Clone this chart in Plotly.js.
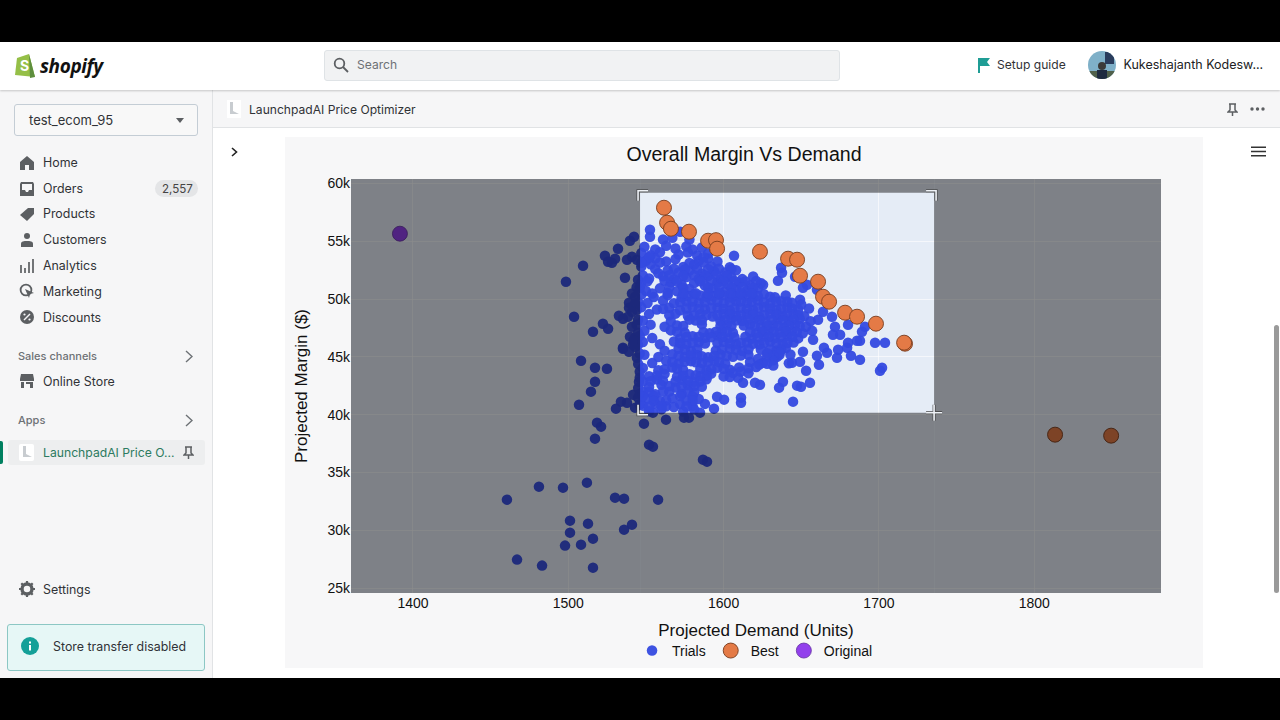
<!DOCTYPE html>
<html><head><meta charset="utf-8">
<script src="https://cdn.plot.ly/plotly-3.0.1.min.js"></script>
<style>
html,body{margin:0;padding:0;background:#000;overflow:hidden;width:1280px;height:720px;font-family:Inter,"Noto Sans",sans-serif;color:#303236}
.a{position:absolute}
.t{position:absolute;white-space:nowrap;font-size:12.4px;line-height:16px;transform:translateY(-50%)}
svg.i{position:absolute;width:16px;height:16px;transform:translate(-50%,-50%)}
</style></head><body>
<div class="a" style="left:0;top:42px;width:1280px;height:48px;background:#fff;box-shadow:0 1px 2px rgba(0,0,0,.2);z-index:3"></div>
<div class="a" style="left:0;top:90px;width:213px;height:588px;background:#f6f6f7;border-right:1px solid #e1e3e5;box-sizing:border-box"></div>
<div class="a" style="left:213px;top:90px;width:1067px;height:38px;background:#f6f6f7;border-bottom:1px solid #e1e3e5;box-sizing:border-box"></div>
<div class="a" style="left:213px;top:128px;width:1067px;height:550px;background:#fff"></div>
<div class="a" style="left:285px;top:137px;width:918px;height:531px;background:#f7f7f8"></div>
<div style="position:absolute;left:0;top:0;width:1280px;height:720px;z-index:4">
<svg class="a" style="left:14px;top:52px" width="24" height="27" viewBox="0 0 24 27"><path d="M3 6 L15 2 L21 25 L1 23Z" fill="#95bf47"/><path d="M15 2 L21 25 L16 26Z" fill="#5e8e3e"/><text x="6" y="19" font-size="14" font-weight="700" fill="#fff" font-family="Inter">S</text></svg>
<div class="t" style="left:40px;top:66px;font:italic 700 19px 'Open Sans';letter-spacing:-.4px;color:#111">shopify</div>
<div class="a" style="left:324px;top:50px;width:516px;height:31px;background:#f1f2f3;border:1px solid #dfe3e6;border-radius:3px;box-sizing:border-box"></div>
<svg class="a" style="left:333px;top:57px" width="16" height="16" viewBox="0 0 16 16"><circle cx="6.5" cy="6.5" r="4.8" fill="none" stroke="#5c5f62" stroke-width="1.8"/><path d="M10 10L15 15" stroke="#5c5f62" stroke-width="1.8"/></svg>
<div class="t" style="left:357px;top:65px;font-size:12.1px;color:#6d7175">Search</div>
<svg class="a" style="left:977px;top:57px" width="14" height="16" viewBox="0 0 14 16"><path d="M1 1H13L10 5L13 9H3V16H1Z" fill="#1f9d95"/></svg>
<div class="t" style="left:997px;top:65px;font-size:12.1px">Setup guide</div>
<svg class="a" style="left:1088px;top:51px" width="28" height="28"><defs><clipPath id="c"><circle cx="14" cy="14" r="14"/></clipPath></defs><g clip-path="url(#c)"><rect width="28" height="28" fill="#7fb0c8"/><rect x="17" y="1" width="9" height="12" fill="#2a3c5c"/><rect y="20" width="28" height="8" fill="#50604a"/><circle cx="14" cy="15" r="4" fill="#3c3a38"/><rect x="9" y="19" width="10" height="9" fill="#1e2a40"/></g></svg>
<div class="t" style="left:1123.5px;top:65px;font-size:12.5px;color:#202223">Kukeshajanth Kodesw...</div>

<div class="a" style="left:14px;top:104px;width:184px;height:32px;border:1px solid #c4cdd5;border-radius:3px;box-sizing:border-box;background:#f8f8f8"></div>
<div class="t" style="left:29px;top:120px;font-size:13px">test_ecom_95</div>
<svg class="a" style="left:176px;top:118px" width="8" height="5"><path d="M0 0H8L4 5Z" fill="#5c5f62"/></svg>

<svg class="i" style="left:27px;top:163px" viewBox="0 0 16 16"><path d="M8 1L15 7V15H10V10H6V15H1V7Z" fill="#5c5f62"/></svg><div class="t" style="left:43px;top:162.5px">Home</div>
<svg class="i" style="left:27px;top:189px" viewBox="0 0 16 16"><path d="M2 1H14L15 3V15H1V3ZM3 3V9H6L7 11H9L10 9H13V3Z" fill="#5c5f62" fill-rule="evenodd"/></svg><div class="t" style="left:43px;top:188.5px">Orders</div>
<div class="a" style="left:155px;top:180px;width:43px;height:17px;border-radius:9px;background:#e4e5e7"></div><div class="t" style="left:162px;top:188.5px;font-size:11.6px;color:#444">2,557</div>
<svg class="i" style="left:27px;top:214px" viewBox="0 0 16 16"><path d="M9 2H15V8L8 15L1 9Z" fill="#5c5f62"/></svg><div class="t" style="left:43px;top:214px">Products</div>
<svg class="i" style="left:27px;top:240px" viewBox="0 0 16 16"><circle cx="8" cy="4" r="3" fill="#5c5f62"/><path d="M2 15V12C2 9 5 9 8 9S14 9 14 12V15Z" fill="#5c5f62"/></svg><div class="t" style="left:43px;top:240px">Customers</div>
<svg class="i" style="left:27px;top:266px" viewBox="0 0 16 16"><path d="M2 7V15M6 10V15M10 4V15M14 1V15" stroke="#5c5f62" stroke-width="1.7"/></svg><div class="t" style="left:43px;top:266px">Analytics</div>
<svg class="i" style="left:27px;top:291px" viewBox="0 0 16 16"><circle cx="7" cy="7" r="5.4" fill="none" stroke="#5c5f62" stroke-width="1.8"/><path d="M6 6L15 10L11 11L10 15Z" fill="#5c5f62"/></svg><div class="t" style="left:43px;top:291.5px">Marketing</div>
<svg class="i" style="left:27px;top:317px" viewBox="0 0 16 16"><circle cx="8" cy="8" r="7" fill="#5c5f62"/><path d="M5 11L11 5" stroke="#f6f6f7" stroke-width="1.4"/><circle cx="5.5" cy="5.5" r="1.1" fill="#f6f6f7"/><circle cx="10.5" cy="10.5" r="1.1" fill="#f6f6f7"/></svg><div class="t" style="left:43px;top:317.5px">Discounts</div>
<div class="t" style="left:18px;top:356px;font-size:11px;font-weight:500;color:#6d7175">Sales channels</div>
<svg class="a" style="left:185px;top:350px" width="8" height="13"><path d="M1 1L7 6.5L1 12" fill="none" stroke="#6d7175" stroke-width="1.4"/></svg>
<svg class="i" style="left:27px;top:381px" viewBox="0 0 16 16"><path d="M2 1H14L15 6V8H1V6Z" fill="#5c5f62"/><path d="M2 9H5V15H2ZM7 9H14V15H11V11H7Z" fill="#5c5f62"/></svg><div class="t" style="left:43px;top:381.5px">Online Store</div>
<div class="t" style="left:18px;top:420px;font-size:11px;font-weight:500;color:#6d7175">Apps</div>
<svg class="a" style="left:185px;top:414px" width="8" height="13"><path d="M1 1L7 6.5L1 12" fill="none" stroke="#6d7175" stroke-width="1.4"/></svg>
<div class="a" style="left:8px;top:440px;width:197px;height:25px;background:#edeeef;border-radius:3px"></div>
<div class="a" style="left:0;top:441px;width:3px;height:23px;background:#008060;border-radius:0 2px 2px 0"></div>
<div class="a" style="left:19px;top:444px;width:15px;height:17px;background:#fff;border-radius:2px"></div><svg class="a" style="left:21px;top:445px" width="12" height="14"><path d="M2 1V12H11L5 9V1Z" fill="#c8ccd0"/></svg>
<div class="t" style="left:43px;top:452.5px;font-size:12.2px;color:#2c7a60">LaunchpadAI Price O...</div>
<svg class="a" style="left:183px;top:446px" width="11" height="13"><path d="M2 1H9M3 1V7L1 9H10L8 7V1M5.5 9V13" fill="none" stroke="#5c5f62" stroke-width="1.5"/></svg>
<svg class="i" style="left:27px;top:589px" viewBox="0 0 16 16"><circle cx="8" cy="8" r="5" fill="none" stroke="#5c5f62" stroke-width="3.4"/><path d="M8 0V3M8 13V16M0 8H3M13 8H16M2.3 2.3L4.4 4.4M11.6 11.6L13.7 13.7M2.3 13.7L4.4 11.6M11.6 4.4L13.7 2.3" stroke="#5c5f62" stroke-width="2.2"/></svg><div class="t" style="left:43px;top:589.5px">Settings</div>
<div class="a" style="left:7px;top:624px;width:198px;height:47px;background:#e6f7f6;border:1px solid #8cc7c4;border-radius:3px;box-sizing:border-box"></div>
<svg class="a" style="left:21px;top:637px" width="18" height="18"><circle cx="9" cy="9" r="9" fill="#14a098"/><rect x="8" y="8" width="2" height="5.5" fill="#fff"/><rect x="8" y="4.5" width="2" height="2" fill="#fff"/></svg>
<div class="t" style="left:53px;top:646.5px;font-size:12.4px">Store transfer disabled</div>

<div class="a" style="left:227px;top:100px;width:14px;height:18px;background:#fff"></div><svg class="a" style="left:228px;top:101px" width="12" height="16"><path d="M2 1V13H11L5 10V1Z" fill="#c8ccd0"/></svg>
<div class="t" style="left:249px;top:109.5px;font-size:12.1px">LaunchpadAI Price Optimizer</div>
<svg class="a" style="left:1227px;top:103px" width="11" height="13"><path d="M2 1H9M3 1V7L1 9H10L8 7V1M5.5 9V13" fill="none" stroke="#5c5f62" stroke-width="1.5"/></svg>
<svg class="a" style="left:1250px;top:107px" width="15" height="4"><circle cx="2" cy="2" r="1.7" fill="#5c5f62"/><circle cx="7.5" cy="2" r="1.7" fill="#5c5f62"/><circle cx="13" cy="2" r="1.7" fill="#5c5f62"/></svg>
<svg class="a" style="left:231px;top:147px" width="7" height="10"><path d="M1 1L5.5 5L1 9" fill="none" stroke="#222" stroke-width="1.6"/></svg>
<svg class="a" style="left:1251px;top:146px" width="15" height="11"><path d="M0 1.2H15M0 5.5H15M0 9.8H15" stroke="#333" stroke-width="1.6"/></svg>
<div class="a" style="left:1274px;top:325px;width:5px;height:268px;background:#9a9a9a;border-radius:3px"></div>
</div>
<div id="chart" class="a" style="left:285px;top:137px;width:918px;height:556px;z-index:2"></div>

<script>
const chartTitle = "Overall Margin Vs Demand";
const xAxisTitle = "Projected Demand (Units)";
const yAxisTitle = "Projected Margin ($)";
const xRange = [1360.1, 1881.6];
const yRange = [24570, 60390];
const selectionDemand = [1546.2, 1735.5];
const selectionMargin = [40170, 59200];

const originalPoint = [[1391.6, 55657]];

const bestPoints = [
[1561.6,57905],[1563.6,56608],[1566.1,56089],[1577.7,55830],[1590.0,55051],[1595.1,55100],[1595.8,54359],
[1623.4,54100],[1641.5,53494],[1647.3,53408],[1649.2,52024],[1660.8,51505],[1664.0,50207],[1667.9,49775],
[1678.2,48823],[1685.9,48477],[1698.1,47872],[1716.8,46140],[1716.2,46228],[1813.4,38270],[1849.5,38183]
];

const trialsLeftAndLower = [
[1509.5,52888],[1498.5,51505],[1503.7,48477],[1515.9,47180],[1522.3,47872],[1525.6,47439],[1532,54359],
[1523.6,53754],[1525.6,53235],[1528.1,53148],[1530.1,53494],[1537.8,53408],[1541,53667],[1544.2,53408],
[1539.7,55051],[1542.3,55397],[1536.5,51851],[1544.9,51678],[1532.6,48564],[1535.2,48304],[1538.4,48477],
[1539.1,49688],[1539.1,49256],[1543,50207],[1544.2,49083],[1544.9,48218],[1541,47612],[1539.7,46747],
[1543,46661],[1544.9,47093],[1535.2,45796],[1541.7,46055],[1544.9,46055],[1508.2,44671],[1517.2,44066],
[1524.9,43979],[1517.2,42855],[1514.6,41990],[1506.9,40865],[1530.7,40519],[1533.9,41125],[1537.8,41038],
[1541.7,41730],[1543,40606],[1544.9,41471],[1535.2,45709],[1539.1,45450],[1543,45882],[1544.2,44931],
[1545.5,42855],[1518.5,39308],[1521.1,38962],[1517.2,37924],[1548.7,39222],[1562.9,39568],[1554.5,40173],
[1552,37405],[1554.5,37232],[1574.5,39741],[1577.7,39741],[1584.8,40173],[1586.7,36108],[1589.3,35935],
[1512,34118],[1481.1,33772],[1496.6,33686],[1460.5,32648],[1530.1,32820],[1535.9,32734],[1557.8,32648],
[1501.1,30831],[1512.7,30572],[1541,30485],[1535.9,30053],[1501.1,29793],[1515.9,29274],[1508.2,28755],
[1497.9,28669],[1467,27458],[1483.1,26939],[1515.9,26765],
[1541,50480],[1544,51020],[1543,49610],[1541,48890],[1545,49720],[1544,47790],[1546,46810],[1542,46420],
[1546,45290],[1545,44390],[1546,43710],[1546,43190],[1545,42310],[1546,41790],[1546,40880]
];

const trialsRightFringe = [
[1606.7,53754],[1625.4,51245],[1637,52716],[1637.6,52283],[1635,51591],[1646,51937],[1651.1,50986],
[1653.7,51245],[1660.1,50813],[1629.9,50207],[1649.2,49948],[1657.6,46488],[1660.8,48218],[1664,48910],
[1669.8,48477],[1671.7,47612],[1675,46920],[1670.4,46920],[1680.1,47785],[1691,47612],[1689.1,47180],
[1680.1,46228],[1685.9,46401],[1687.8,46401],[1697.5,46228],[1703.9,46228],[1664.6,45796],[1666.6,45363],
[1673.7,45623],[1673,44931],[1679.5,45796],[1682,45104],[1687.8,44758],[1660.1,45104],[1661.4,44325],
[1653.1,43806],[1702,44066],[1700.7,43806],[1655.6,42768],[1647.3,42509],[1649.8,42422],[1638.2,42855],
[1635.7,42336],[1623.4,42595],[1620.2,42768],[1612.5,42768],[1609.3,43201],[1611.2,41471],[1611.2,41038],
[1644.7,41125],[1600.3,41298],[1595.8,41557],[1593.8,40519],[1644,44498],[1649.2,44585],[1634.4,45017],
[1625.4,44498],[1651.1,45450]
];

const trialsCore = [
[1552.6,56000],[1552.6,55400],[1561,55150],[1572,55830],[1567,55300],[1578,55150],
[1549,54520],[1556,54300],[1563,54610],[1569,54380],[1576,54560],[1580,54290],[1586,54470],
[1547,53980],[1553,53790],[1559,54050],[1571,53860],[1577,54020],[1583,53770],[1590,53950],
[1550,53320],[1556,53510],[1563,53260],[1569,53450],[1584,53300],[1590,53520],[1596,53250],
[1547,52810],[1553,53020],[1574,52770],[1581,52990],[1592,52820],[1604,52760],
[1558,52240],[1564,52500],[1571,52300],[1578,52470],[1586,52220],[1594,52410],[1601,52290],[1608,52500],
[1552,51780],[1561,51980],[1568,51720],[1576,51910],[1584,51760],[1590,51990],[1598,51710],[1605,51880],[1612,51730],[1619,51950],
[1547,51410],[1566,51460],[1573,51250],[1581,51390],[1588,51180],[1596,51440],[1603,51260],[1610,51420],[1617,51190],[1624,51370],
[1550,50700],[1559,50930],[1570,50680],[1578,50880],[1593,50940],[1601,50660],[1608,50860],[1615,50710],[1622,50920],
[1547,50390],[1555,50170],[1564,50340],[1573,50150],[1581,50410],[1589,50200],[1597,50370],[1604,50130],[1612,50350],[1619,50190],[1626,50420],[1633,50160],[1640,50320],
[1551,49660],[1561,49870],[1568,49640],[1576,49820],[1584,49700],[1592,49900],[1600,49650],[1608,49840],[1615,49680],[1622,49880],[1630,49630],[1637,49810],[1644,49690],[1650,49530],
[1547,49290],[1557,49090],[1565,49240],[1572,49040],[1580,49310],[1588,49120],[1596,49260],[1604,49030],[1611,49220],[1619,49080],[1626,49300],[1634,49050],[1641,49250],[1648,49100],[1655,49190],
[1552,48700],[1569,48740],[1577,48560],[1585,48690],[1593,48490],[1600,48720],[1608,48530],[1615,48680],[1623,48500],[1630,48750],[1638,48550],[1645,48710],[1652,48520],
[1548,48120],[1566,48070],[1582,48150],[1598,48090],[1605,48290],[1612,48110],[1620,48320],[1627,48060],[1635,48250],[1642,48130],[1649,48300],[1656,48090],
[1553,47790],[1562,47600],[1570,47720],[1586,47810],[1602,47760],[1617,47800],[1624,47590],[1632,47740],[1639,47550],[1646,47780],[1653,47610],
[1549,47260],[1566,47290],[1575,47100],[1591,47040],[1599,47270],[1606,47090],[1621,47060],[1629,47280],[1636,47110],[1644,47220],[1651,47050],[1657,47250],
[1554,46640],[1572,46590],[1580,46790],[1588,46660],[1596,46860],[1603,46610],[1618,46570],[1626,46770],[1633,46630],[1641,46820],[1648,46600],
[1548,46290],[1559,46090],[1568,46330],[1576,46120],[1584,46260],[1600,46300],[1608,46100],[1615,46250],[1623,46070],[1630,46320],[1638,46130],[1645,46240],
[1562,45530],[1571,45710],[1579,45510],[1595,45560],[1604,45690],[1612,45500],[1634,45550],[1640,45750],
[1549,45180],[1558,44990],[1567,45220],[1575,45010],[1583,45160],[1590,44960],[1598,45200],[1606,45000],[1616,45170],[1628,45020],[1636,45190],
[1554,44460],[1563,44670],[1571,44430],[1579,44630],[1586,44480],[1594,44690],[1601,44420],[1632,44700],[1642,44450],
[1548,44040],[1558,43850],[1567,44070],[1574,43860],[1589,43830],[1596,44060],[1604,43880],
[1552,43320],[1562,43530],[1570,43290],[1578,43490],[1585,43340],[1592,43550],[1600,43310],
[1548,42860],[1557,43050],[1573,43010],[1581,42850],[1589,43070],
[1552,42390],[1560,42580],[1569,42350],[1577,42550],[1586,42410],
[1548,41960],[1556,41770],[1565,41990],[1573,41800],[1581,41940],
[1551,41370],[1559,41190],[1567,41410],[1576,41220],[1584,41350],
[1548,40780],[1556,40950],[1563,40720],[1572,40910],[1580,40760],[1588,40930],
[1552,40290],[1560,40460],[1574,40270],[1581,40440]
];

const trialsDenseFill = [
[1577,50280],[1585,50310],[1593,50260],[1600,50330],[1608,50240],[1615,50300],[1622,50270],
[1572,49740],[1580,49790],[1588,49730],[1596,49770],[1604,49720],[1611,49800],[1618,49750],[1626,49710],[1634,49780],[1641,49760],
[1561,49150],[1576,49190],[1584,49130],[1592,49210],[1600,49140],[1607,49180],[1615,49120],[1622,49200],[1630,49160],[1637,49130],[1644,49190],
[1565,48610],[1581,48590],[1589,48630],[1596,48600],[1604,48660],[1611,48580],[1619,48640],[1626,48610],[1634,48650],[1641,48590],[1648,48620],
[1578,48220],[1586,48160],[1601,48190],[1608,48150],[1616,48230],[1623,48170],[1631,48200],[1638,48140],[1645,48210],
[1574,47670],[1598,47690],[1605,47660],[1613,47710],[1620,47640],[1628,47680],[1635,47650],[1642,47700],[1649,47670],
[1570,47160],[1587,47140],[1595,47180],[1602,47150],[1617,47130],[1625,47170],[1632,47140],[1640,47190],[1647,47150],
[1576,46710],[1584,46740],[1592,46690],[1599,46730],[1607,46700],[1614,46750],[1622,46680],[1629,46720],[1637,46700],[1644,46740],
[1572,46170],[1580,46200],[1588,46150],[1596,46190],[1604,46160],[1611,46210],[1619,46140],[1626,46180],[1634,46150],[1641,46200],
[1575,45620],[1583,45650],[1599,45640],[1608,45600],[1616,45660],[1624,45620],[1630,45640],[1637,45610],
[1571,45080],[1579,45110],[1586,45060],[1594,45100],[1602,45070],[1611,45120],[1632,45100],
[1567,44550],[1575,44580],[1582,44530],[1590,44570],[1597,44540],
[1562,43940],[1570,43970],[1585,43960],[1592,43920],[1600,43970],
[1552,53610],[1587,53630],
[1547,53140],[1559,53170],[1578,53120],[1587,53160],
[1556,52590],[1568,52620],[1575,52570],[1583,52610],[1590,52580],[1597,52630],[1605,52590],
[1548,52040],[1565,52070],[1574,52020],[1581,52060],[1588,52030],[1595,52080],[1602,52040],
[1551,51550],[1562,51580],[1570,51530],[1585,51540],[1592,51590],[1600,51550],[1607,51570],[1614,51530],[1621,51560],
[1546,50990],[1565,51020],[1574,50970],[1590,50980],[1597,51030],[1605,50990],[1612,51010],[1619,50970],
[1554,50490],[1564,50520],[1574,50470],[1582,50510],[1590,50480],[1597,50530],[1605,50490],[1611,50510],[1618,50470],
[1557,43390],[1574,43370],[1582,43410],[1589,43380],
[1553,42890],[1561,42920],[1569,42870],[1577,42910],[1585,42880],
[1565,42470],[1573,42420],[1581,42460],
[1552,41980],[1561,42010],[1577,42000],
[1548,41590],[1555,41620],[1572,41610],[1580,41580],
[1555,41190],[1563,41220],[1580,41210],
[1552,40690],[1560,40720],[1568,40670],[1576,40710]
];

const trialsLowerRight = [
[1628,45310],[1636,45360],[1643,45210],[1622,44820],[1617,44560],[1623,44330],[1628,44410],
[1610,44090],[1616,44010],[1621,44120],[1606,43620],[1611,43730],[1616,43590],[1604,43260],[1632,44250]
];

const trialPoints = trialsLeftAndLower.concat(trialsRightFringe, trialsCore, trialsDenseFill, trialsLowerRight);

const dimRects = [
  [xRange[0], selectionDemand[0], yRange[0], yRange[1]],
  [selectionDemand[1], xRange[1], yRange[0], yRange[1]],
  [selectionDemand[0], selectionDemand[1], selectionMargin[1], yRange[1]],
  [selectionDemand[0], selectionDemand[1], yRange[0], selectionMargin[0]]
];
const shapes = dimRects.map(r => ({type:'rect', xref:'x', yref:'y', x0:r[0], x1:r[1], y0:r[2], y1:r[3],
  fillcolor:'rgba(0,0,0,0.45)', line:{width:0}, layer:'above'}));
const corners = [
  [selectionDemand[0], selectionMargin[1], 'M-2,-8V2H8'],
  [selectionDemand[1], selectionMargin[1], 'M-8,2H2V-8'],
  [selectionDemand[0], selectionMargin[0], 'M-2,8V-2H8'],
  [selectionDemand[1], selectionMargin[0], 'M-8,0H8M0,-8V8']
];
[['rgba(50,50,50,0.65)',3.2],['#eef1f6',1.6]].forEach(st => corners.forEach(c => shapes.push({
  type:'path', xref:'x', yref:'y', xsizemode:'pixel', ysizemode:'pixel', xanchor:c[0], yanchor:c[1],
  path:c[2], line:{color:st[0], width:st[1]}, layer:'above'})));

const fontFam = '"Liberation Sans", Arial, sans-serif';
Plotly.newPlot('chart', [
 {name:'Trials', type:'scatter', mode:'markers', x:trialPoints.map(p=>p[0]), y:trialPoints.map(p=>p[1]),
  marker:{size:10.5, color:'rgb(52,74,224)', opacity:0.95}},
 {name:'Best', type:'scatter', mode:'markers', x:bestPoints.map(p=>p[0]), y:bestPoints.map(p=>p[1]),
  marker:{size:15, color:'rgb(228,122,70)', line:{color:'rgba(120,60,30,0.9)', width:1}}},
 {name:'Original', type:'scatter', mode:'markers', x:originalPoint.map(p=>p[0]), y:originalPoint.map(p=>p[1]),
  marker:{size:15, color:'rgb(146,64,236)', line:{color:'rgba(100,50,160,0.8)', width:1}}}
], {
  width:918, height:556,
  margin:{l:66, r:42, t:42, b:100, pad:0},
  paper_bgcolor:'rgba(0,0,0,0)', plot_bgcolor:'#e5ecf6',
  font:{family:fontFam, color:'#111', size:14},
  title:{text:chartTitle, font:{size:19.6, family:fontFam, color:'#111'}, x:0.5, xanchor:'center', y:0.9694, yanchor:'middle'},
  xaxis:{range:xRange, title:{text:xAxisTitle, font:{size:17}, standoff:14}, dtick:100, gridcolor:'rgba(255,255,255,0.6)', zeroline:false, automargin:true, ticks:'', tickfont:{size:14}},
  yaxis:{range:yRange, title:{text:yAxisTitle, font:{size:17}, standoff:15}, dtick:5000, tick0:25000, tickformat:'~s', gridcolor:'rgba(255,255,255,0.6)', zeroline:false, automargin:true, ticks:'', tickfont:{size:14}},
  legend:{orientation:'h', x:0.4988, xanchor:'center', y:-0.14, yanchor:'middle', font:{size:14}, bgcolor:'rgba(0,0,0,0)'},
  shapes:shapes,
  hovermode:false
}, {displayModeBar:false, staticPlot:true});
</script>
<div class="a" style="left:0;top:0;width:1280px;height:720px;pointer-events:none;z-index:9;border-top:42px solid #000;border-bottom:42px solid #000;box-sizing:border-box"></div>
</body></html>
